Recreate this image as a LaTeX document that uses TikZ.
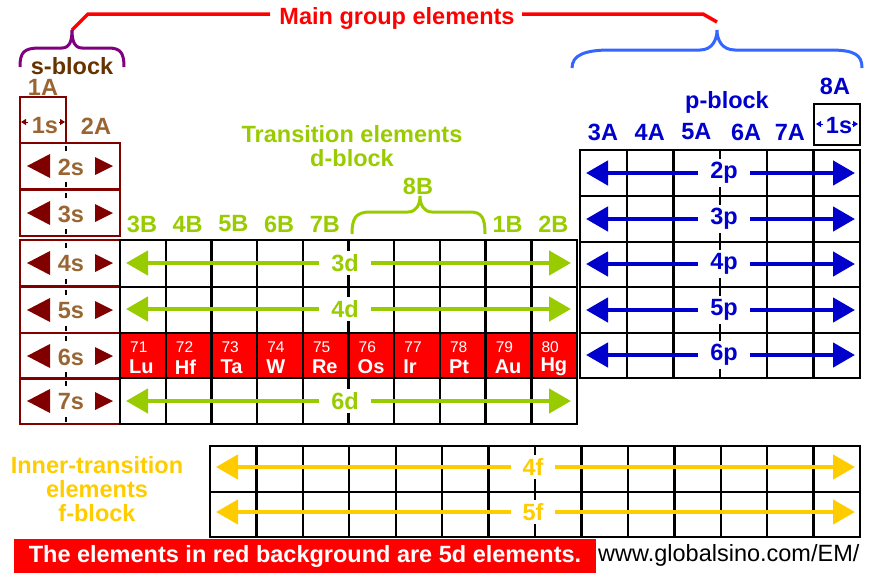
\documentclass[tikz,border=0pt]{standalone}
\usepackage{fontspec}
\setmainfont{Liberation Sans}
\usetikzlibrary{arrows.meta}
\definecolor{mred}{HTML}{FF0000}
\definecolor{purp}{HTML}{800080}
\definecolor{sbr}{HTML}{663300}
\definecolor{slab}{HTML}{996633}
\definecolor{dred}{HTML}{800000}
\definecolor{grn}{HTML}{99CC00}
\definecolor{blu}{HTML}{0000CC}
\definecolor{lblu}{HTML}{3366FF}
\definecolor{yel}{HTML}{FFCC00}
\begin{document}
\begin{tikzpicture}[x=1pt,y=-1pt,
  lab/.style={font=\fontsize{23.5}{24}\selectfont\bfseries,inner sep=1pt},
  cellline/.style={line width=2.4pt},
  arr/.style={line width=4.5pt,{Triangle[length=22pt,width=24pt]}-{Triangle[length=22pt,width=24pt]}},
  mid/.style={lab,fill=white,inner xsep=12pt,inner ysep=3pt}]
\useasboundingbox (0,0) rectangle (875,576);
% title line and braces
\draw[mred,line width=3.5pt] (72,30) -- (88,14) -- (270,14);
\draw[mred,line width=3.5pt] (522,14) -- (703,14) -- (717,22);
\node[lab,text=mred] (mg) at (397,18) {Main group elements};
\draw[purp,line width=3pt] (20,67) .. controls (20,52) and (24,48) .. (40,48) -- (62,48) .. controls (70,48) and (72,40) .. (72,30)
  .. controls (72,40) and (74,48) .. (82,48) -- (108,48) .. controls (120,48) and (124,52) .. (124,67);
\draw[lblu,line width=3pt] (572,68) .. controls (572,55) and (585,50) .. (610,50) -- (700,50) .. controls (712,50) and (717,40) .. (717,30)
  .. controls (717,40) and (722,50) .. (735,50) -- (830,50) .. controls (855,50) and (862,55) .. (862,68);
\draw[grn,line width=3pt] (352,234) .. controls (352,218) and (356,212) .. (370,212) -- (408,212) .. controls (416,212) and (420,205) .. (420,196)
  .. controls (420,205) and (424,212) .. (432,212) -- (470,212) .. controls (482,212) and (485,218) .. (485,234);
% s block
\node[lab,text=sbr] (sb) at (72,66) {s-block};
\node[lab,text=slab] (g1A) at (43,87) {1A};
\node[lab,text=slab] (g2A) at (96,126) {2A};
\draw[dred,line width=2.4pt] (20,97) rectangle (66,143);
\foreach \y/\t in {143/2s,190/3s,240/4s,287/5s,333/6s,378/7s}{
  \draw[dred,line width=2.4pt] (20,\y) rectangle (120,\y+46);
  \node[lab,text=slab] (c\t) at (71,\y+24) {\t};
  \fill[dred] (27,\y+23) -- (50,\y+11) -- (50,\y+35) -- cycle;
  \fill[dred] (113,\y+23) -- (95,\y+14) -- (95,\y+32) -- cycle;
}
\node[lab,text=slab] (c1s) at (45,126) {1s};
\draw[dred,line width=1pt,-{Triangle[length=5pt,width=6pt]}] (28,122) -- (21,122);
\draw[dred,line width=1pt,-{Triangle[length=5pt,width=6pt]}] (59,122) -- (65,122);
\foreach \y in {143,190,240,287,333,378}{\draw[line width=2pt] (66,\y+3) -- (66,\y+8); \draw[line width=2pt] (66,\y+39) -- (66,\y+44);}
% d block
\node[lab,text=grn,align=center] (te) at (352,146) {Transition elements\\d-block};
\node[lab,text=grn] (e8B) at (418,186) {8B};
\foreach \i/\t in {0/3B,1/4B,2/5B,3/6B,4/7B,8/1B,9/2B}{\node[lab,text=grn] (d\t) at ({142+45.7*\i},224) {\t};}
\fill[mred] (120,333) rectangle (577,378);
\draw[cellline] (120,240) rectangle (577,424);
\foreach \i in {1,...,9}{\draw[cellline] ({120+45.7*\i},240) -- ({120+45.7*\i},424);}
\foreach \y in {287,333,378}{\draw[cellline] (120,\y) -- (577,\y);}
\foreach \i/\n/\s in {0/71/Lu,1/72/Hf,2/73/Ta,3/74/W,4/75/Re,5/76/Os,6/77/Ir,7/78/Pt,8/79/Au,9/80/Hg}{
  \node[white,font=\fontsize{15.5}{15}\selectfont,anchor=west,inner sep=0pt] (n\n) at ({130+45.7*\i},347) {\n};
  \node[white,font=\fontsize{20}{20}\selectfont\bfseries,anchor=west,inner sep=0pt] (s\s) at ({129+45.7*\i},367) {\s};
}
\foreach \y/\t in {263/3d,309/4d,401/6d}{
  \coordinate (dl\t) at (126,\y); \coordinate (dr\t) at (571,\y);
  \draw[grn,arr] (dl\t) -- (dr\t);
  \node[mid,text=grn] (m\t) at (345,\y) {\t};
}
% p block
\node[lab,text=blu] (pb) at (727,102) {p-block};
\node[lab,text=blu] (g8A) at (835,86) {8A};
\draw[cellline] (814,104) rectangle (860,145);
\node[lab,text=blu] (p1s) at (839,126) {1s};
\draw[blu,line width=1pt,-{Triangle[length=5pt,width=6pt]}] (823,124) -- (816,124);
\draw[blu,line width=1pt,-{Triangle[length=5pt,width=6pt]}] (852,124) -- (858,124);
\foreach \i/\t in {0/3A,1/4A,2/5A,3/6A,4/7A}{\node[lab,text=blu] (p\t) at ({603+46.7*\i+ (\i==3 ? 3 : 0)},132) {\t};}
\draw[cellline] (580,150) rectangle (860,378);
\foreach \i in {1,...,5}{\draw[cellline] ({580+46.7*\i},150) -- ({580+46.7*\i},378);}
\foreach \y in {196,242,287,333}{\draw[cellline] (580,\y) -- (860,\y);}
\foreach \y/\t in {173/2p,219/3p,264/4p,310/5p,355/6p}{
  \coordinate (pl\t) at (586,\y); \coordinate (pr\t) at (855,\y);
  \draw[blu,arr] (pl\t) -- (pr\t);
  \node[mid,text=blu] (m\t) at (724,\y) {\t};
}
% f block
\node[lab,text=yel,align=center] (ft) at (97,489) {Inner-transition\\elements\\f-block};
\draw[cellline] (210,446) rectangle (860,537);
\draw[cellline] (210,492) -- (860,492);
\foreach \i in {1,...,13}{\draw[cellline] ({210+46.43*\i},446) -- ({210+46.43*\i},537);}
\foreach \y/\t in {467/4f,512/5f}{
  \coordinate (fl\t) at (216,\y); \coordinate (fr\t) at (855,\y);
  \draw[yel,arr] (fl\t) -- (fr\t);
  \node[mid,text=yel] (m\t) at (533,\y) {\t};
}
% footer
\node[fill=mred,text=white,font=\fontsize{23.5}{23.5}\selectfont\bfseries,minimum height=34pt,minimum width=582pt,inner sep=0pt] (foot) at (305,556) {The elements in red background are 5d elements.};
\node[font=\fontsize{23.5}{23.5}\selectfont,anchor=west,inner sep=0pt] (url) at (598,555) {www.globalsino.com/EM/};
\end{tikzpicture}
\end{document}
